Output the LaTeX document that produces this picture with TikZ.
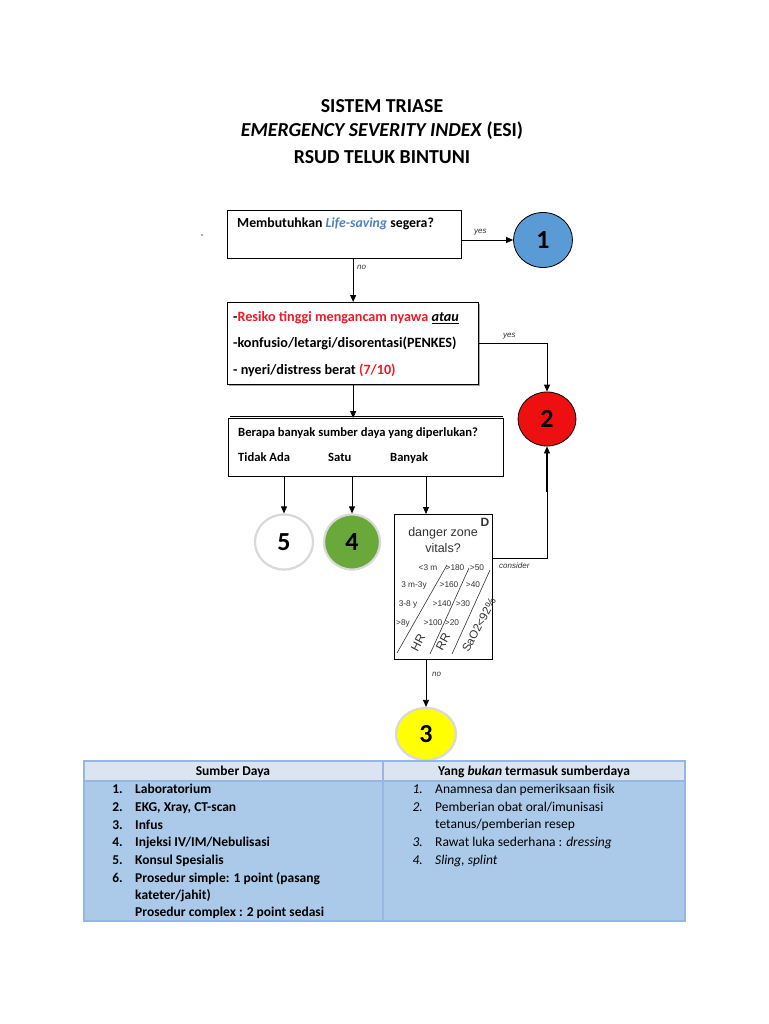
\documentclass[tikz,border=0pt]{standalone}
\usepackage{fontspec}
\setmainfont{Carlito}
\newfontfamily\arialf{Liberation Sans}
\usetikzlibrary{arrows.meta,shapes.geometric}
\definecolor{lsblue}{RGB}{79,129,189}
\definecolor{cone}{RGB}{91,155,213}
\definecolor{ctwo}{RGB}{238,16,16}
\definecolor{cfour}{RGB}{106,168,58}
\definecolor{cthree}{RGB}{255,255,0}
\definecolor{tbody}{RGB}{171,201,233}
\definecolor{thead}{RGB}{219,229,242}
\definecolor{tline}{RGB}{149,183,225}
\definecolor{rtext}{RGB}{235,28,36}
\definecolor{dzgray}{RGB}{50,50,50}
\begin{document}
\begin{tikzpicture}[x=1pt,y=-1pt,
  boxst/.style={draw,line width=1.3pt,fill=white,inner sep=0pt},
  arr/.style={-{Triangle[length=7pt,width=6pt]},line width=0.8pt},
  lab/.style={font=\arialf\itshape\fontsize{8}{9}\selectfont,text=black!80,inner sep=0pt,anchor=west},
  circ/.style={ellipse,draw,line width=0.8pt,inner sep=0pt,font=\bfseries\fontsize{26}{28}\selectfont},
  ring/.style={ellipse,draw=black!15,line width=2.2pt,inner sep=0pt,font=\bfseries\fontsize{26}{28}\selectfont},
  txt/.style={inner sep=0pt,anchor=west},
  dz/.style={inner sep=0pt,font=\arialf\fontsize{8.3}{9}\selectfont,text=dzgray},
  tl/.style={inner sep=0pt,anchor=base west,font=\bfseries\fontsize{13.5}{15}\selectfont},
  tn/.style={inner sep=0pt,anchor=base east,font=\bfseries\fontsize{13.5}{15}\selectfont},
  tr/.style={inner sep=0pt,anchor=base west,font=\fontsize{13.5}{15}\selectfont},
  trn/.style={inner sep=0pt,anchor=base east,font=\itshape\fontsize{13.5}{15}\selectfont},
]
\useasboundingbox[fill=white] (0,0) rectangle (768,1024);

% Title
\node[inner sep=0pt,font=\bfseries\fontsize{19.8}{22}\selectfont] (ti1) at (382,106) {SISTEM TRIASE};
\node[inner sep=0pt,font=\bfseries\fontsize{19.8}{22}\selectfont] (ti2) at (382,131) {\textit{EMERGENCY SEVERITY INDEX} (ESI)};
\node[inner sep=0pt,font=\bfseries\fontsize{19.8}{22}\selectfont] (ti3) at (382,157) {RSUD TELUK BINTUNI};

% blue dot
\fill[blue!70] (202,235) circle (0.9);

% Box 1
\node[boxst,minimum width=234pt,minimum height=48pt,anchor=north west] (b1) at (227,210) {};
\node[txt,font=\bfseries\fontsize{13.8}{15}\selectfont] (t1) at (237,224) {Membutuhkan \textcolor{lsblue}{\textit{Life-saving}} segera?};

% Circle 1
\node[circ,fill=cone,minimum width=59pt,minimum height=55pt] (n1) at (543,240) {1};
\draw[arr] (b1.east |- n1.west) -- (n1.west);
\node[lab] (l1) at (474,232) {yes};

% Box 2
\fill[black!35] (229,304) rectangle (480,386);
\node[boxst,minimum width=251pt,minimum height=82pt,anchor=north west] (b2) at (227,302) {};
\node[txt,font=\bfseries\fontsize{14.2}{16}\selectfont] (t2a) at (233,318) {-\textcolor{rtext}{Resiko tinggi mengancam nyawa} \underline{\textit{atau}}};
\node[txt,font=\bfseries\fontsize{14.2}{16}\selectfont] (t2b) at (233,343) {-konfusio/letargi/disorentasi(PENKES)};
\node[txt,font=\bfseries\fontsize{14.2}{16}\selectfont] (t2c) at (233,370) {- nyeri/distress berat \textcolor{rtext}{(7/10)}};
\draw[arr] (b2.north |- b1.south) -- (b2.north);
\node[lab] (l2) at (357,267) {no};

% Circle 2
\node[circ,fill=ctwo,minimum width=58pt,minimum height=54pt] (n2) at (547,419) {2};
\draw[arr] (b2.east) -| (n2.north);
\node[lab] (l3) at (503,336) {yes};

% Box 3
\draw[line width=0.8pt] (230,416) -- (503,416);
\node[boxst,minimum width=275pt,minimum height=58pt,anchor=north west] (b3) at (228,418) {};
\node[txt,font=\bfseries\fontsize{12.6}{14}\selectfont] (t3a) at (238,433) {Berapa banyak sumber daya yang diperlukan?};
\node[inner sep=0pt,anchor=base west,font=\bfseries\fontsize{12.6}{14}\selectfont] (t3b) at (238,461) {Tidak Ada};
\node[inner sep=0pt,anchor=base west,font=\bfseries\fontsize{12.6}{14}\selectfont] (t3c) at (328,461) {Satu};
\node[inner sep=0pt,anchor=base west,font=\bfseries\fontsize{12.6}{14}\selectfont] (t3d) at (390,461) {Banyak};
\draw[arr] (b2.south) -- (b2.south |- b3.north);

% Circles 5 and 4
\node[ring,fill=white,minimum width=58pt,minimum height=55pt] (n5) at (284,542) {5};
\node[ring,fill=cfour,minimum width=56pt,minimum height=55pt] (n4) at (352,542) {4};
\draw[arr] (n5.north |- b3.south) -- (n5.north);
\draw[arr] (n4.north |- b3.south) -- (n4.north);

% Danger zone box
\node[draw,line width=0.8pt,fill=white,minimum width=98pt,minimum height=145pt,anchor=north west,inner sep=0pt] (dzb) at (394,514) {};
\coordinate (dzin) at (426,514);
\draw[arr] (b3.south -| dzin) -- (dzin);
\node[dz,font=\arialf\bfseries\fontsize{12}{13}\selectfont] (dzd) at (485,522) {D};
\node[dz,font=\arialf\fontsize{12.5}{13}\selectfont] (dz1) at (443,533) {danger zone};
\node[dz,font=\arialf\fontsize{12.5}{13}\selectfont] (dz2) at (443,548) {vitals?};
\node[dz] (r1a) at (428,568) {<3 m};
\node[dz] (r1b) at (455,568) {>180};
\node[dz] (r1c) at (477,568) {>50};
\node[dz] (r2a) at (414,585) {3 m-3y};
\node[dz] (r2b) at (449,585) {>160};
\node[dz] (r2c) at (473,585) {>40};
\node[dz] (r3a) at (408,604) {3-8 y};
\node[dz] (r3b) at (442,604) {>140};
\node[dz] (r3c) at (463,604) {>30};
\node[dz] (r4a) at (403,623) {>8y};
\node[dz] (r4b) at (433,623) {>100};
\node[dz] (r4c) at (452,623) {>20};
\draw[dzgray,line width=0.6pt] (397,653) -- (447,565);
\draw[dzgray,line width=0.6pt] (430,654) -- (469,568);
\draw[dzgray,line width=0.6pt] (452,654) -- (490,570);
\node[dz,rotate=62,font=\arialf\fontsize{12}{13}\selectfont] (hr) at (418,643) {HR};
\node[dz,rotate=62,font=\arialf\fontsize{12}{13}\selectfont] (rr) at (443,642) {RR};
\node[dz,rotate=62,font=\arialf\fontsize{11.5}{12}\selectfont] (sao) at (479,625) {SaO2<92\%};

\coordinate (dzout) at (492,558);
\draw[arr] (dzout) -| (n2.south);
\draw[line width=1.6pt] (547,452) -- (547,492);
\node[lab] (l4) at (499,566) {consider};

% Circle 3
\node[ring,fill=cthree,minimum width=60pt,minimum height=52pt] (n3) at (426,734) {3};
\draw[arr] (n3.north |- dzb.south) -- (n3.north);
\node[lab] (l5) at (432,674) {no};

% Table
\fill[thead] (84,761) rectangle (685,781);
\fill[tbody] (84,781) rectangle (685,921);
\draw[tline,line width=1.6pt] (84,761) rectangle (685,921);
\draw[tline,line width=1.4pt] (84,781) -- (685,781);
\draw[tline,line width=1.4pt] (383,761) -- (383,921);
\node[inner sep=0pt,anchor=base,font=\bfseries\fontsize{13.5}{15}\selectfont] (h1) at (233,775.5) {Sumber Daya};
\node[inner sep=0pt,anchor=base,font=\bfseries\fontsize{13.5}{15}\selectfont] (h2) at (534,775.5) {Yang \textit{bukan} termasuk sumberdaya};

\node[tn] (ln1) at (123,793.5) {1.};
\node[tl] (lt1) at (135,793.5) {Laboratorium};
\node[tn] (ln2) at (123,811.5) {2.};
\node[tl] (lt2) at (135,811.5) {EKG, Xray, CT-scan};
\node[tn] (ln3) at (123,829.5) {3.};
\node[tl] (lt3) at (135,829.5) {Infus};
\node[tn] (ln4) at (123,846.5) {4.};
\node[tl] (lt4) at (135,846.5) {Injeksi IV/IM/Nebulisasi};
\node[tn] (ln5) at (123,864.5) {5.};
\node[tl] (lt5) at (135,864.5) {Konsul Spesialis};
\node[tn] (ln6) at (123,882.5) {6.};
\node[tl] (lt6) at (135,882.5) {Prosedur simple: 1 point (pasang};
\node[tl] (lt7) at (135,899.5) {kateter/jahit)};
\node[tl] (lt8) at (135,916.5) {Prosedur complex : 2 point sedasi};

\node[trn] (rn1) at (423,793.5) {1.};
\node[tr] (rt1) at (435,793.5) {Anamnesa dan pemeriksaan fisik};
\node[trn] (rn2) at (423,811.5) {2.};
\node[tr] (rt2) at (435,811.5) {Pemberian obat oral/imunisasi};
\node[tr] (rt3) at (435,828.5) {tetanus/pemberian resep};
\node[trn] (rn3) at (423,846.5) {3.};
\node[tr] (rt4) at (435,846.5) {Rawat luka sederhana : \textit{dressing}};
\node[trn] (rn4) at (423,864.5) {4.};
\node[tr] (rt5) at (435,864.5) {\textit{Sling, splint}};
\end{tikzpicture}
\end{document}
